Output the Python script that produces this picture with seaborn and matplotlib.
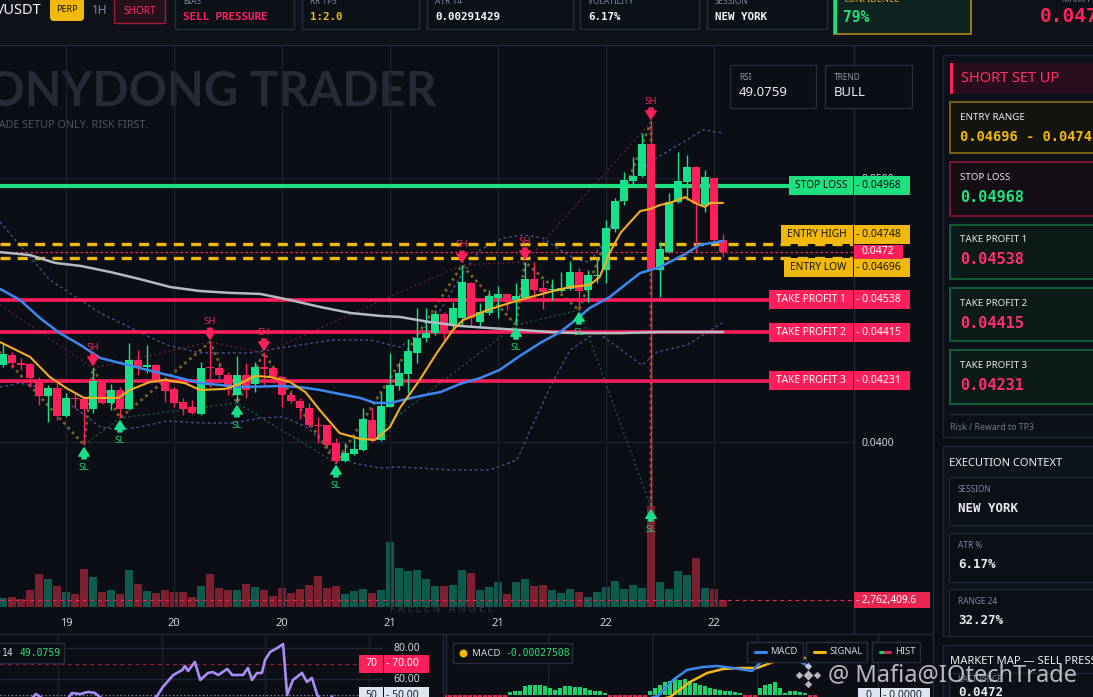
import numpy as np
import matplotlib
matplotlib.use("Agg")
import matplotlib.pyplot as plt
from matplotlib.patches import Rectangle, FancyBboxPatch
import seaborn as sns

W, H = 1093, 697
BG = "#0b0e15"
GRID = "#1b212d"
EDGE = "#222a38"
GREEN = "#18e08a"
RED = "#ff1f5a"
YELLOW = "#f0b90b"
SANS = ["Noto Sans", "DejaVu Sans"]
MONO = ["DejaVu Sans Mono"]

sns.set_theme(style="dark", rc={"axes.facecolor": "none", "figure.facecolor": BG,
                                "savefig.facecolor": BG, "axes.grid": False})
plt.rcParams["font.family"] = SANS

# ---------------- hourly candles (prices in 1e-5 units) ----------------
open_u = [4291, 4329, 4299, 4295, 4231, 4174, 4204, 4098, 4167, 4163,
          4125, 4227, 4148, 4197, 4125, 4310, 4284, 4291, 4235, 4201,
          4151, 4133, 4106, 4284, 4280, 4253, 4178, 4253, 4219, 4284,
          4280, 4246, 4178, 4155, 4129, 4064, 4064, 3996, 3928, 3955,
          3970, 4083, 4008, 4133, 4212, 4257, 4337, 4393, 4412, 4484,
          4446, 4469, 4601, 4454, 4488, 4545, 4560, 4537, 4545, 4616,
          4582, 4575, 4571, 4579, 4643, 4575, 4628, 4650, 4805, 4911,
          4987, 5006, 5127, 4650, 4718, 4907, 4983, 5040, 4896, 4998,
          4764]
high_u = [4374, 4340, 4318, 4299, 4246, 4216, 4223, 4185, 4185, 4167,
          4280, 4235, 4219, 4208, 4374, 4348, 4367, 4295, 4246, 4208,
          4167, 4159, 4303, 4378, 4303, 4265, 4325, 4299, 4303, 4337,
          4288, 4248, 4197, 4167, 4148, 4095, 4066, 4015, 3996, 4019,
          4129, 4129, 4185, 4337, 4303, 4390, 4507, 4507, 4499, 4492,
          4529, 4669, 4605, 4526, 4575, 4590, 4563, 4601, 4681, 4681,
          4613, 4616, 4643, 4684, 4658, 4650, 4699, 4839, 4923, 5021,
          5077, 5168, 5210, 4756, 4941, 5096, 5085, 5043, 5028, 5000,
          4786]
low_u = [4284, 4280, 4272, 4208, 4140, 4076, 4083, 4095, 4129, 3989,
         4110, 4145, 4121, 4091, 4121, 4253, 4261, 4232, 4151, 4133,
         4102, 4106, 4104, 4208, 4235, 4178, 4148, 4167, 4189, 4216,
         4223, 4133, 4148, 4087, 4057, 3996, 3978, 3921, 3926, 3951,
         3968, 4000, 4006, 4131, 4197, 4185, 4299, 4378, 4405, 4386,
         4431, 4442, 4435, 4431, 4480, 4469, 4499, 4442, 4543, 4537,
         4503, 4537, 4567, 4575, 4499, 4529, 4601, 4601, 4794, 4896,
         4964, 5002, 3754, 4548, 4715, 4905, 4915, 4715, 4870, 4756,
         4700]
close_u = [4333, 4299, 4291, 4242, 4174, 4204, 4098, 4167, 4163, 4125,
           4231, 4148, 4197, 4125, 4310, 4284, 4291, 4235, 4193, 4148,
           4125, 4110, 4280, 4280, 4253, 4208, 4253, 4197, 4284, 4276,
           4246, 4178, 4155, 4129, 4064, 4060, 3989, 3928, 3959, 3974,
           4087, 4008, 4136, 4216, 4262, 4344, 4393, 4412, 4484, 4412,
           4507, 4605, 4469, 4492, 4552, 4560, 4529, 4552, 4616, 4575,
           4567, 4579, 4582, 4643, 4571, 4631, 4631, 4809, 4911, 4991,
           5006, 5127, 4650, 4730, 4907, 4987, 5040, 4900, 5002, 4764,
           4720]
volume_m = [3.8, 4.0, 3.5, 7.2, 13.9, 11.8, 8.9, 6.4, 5.6, 16.0,
            12.7, 6.4, 7.2, 5.6, 15.6, 9.8, 6.8, 6.0, 7.2, 6.4,
            6.4, 4.3, 8.9, 13.9, 8.1, 7.2, 7.2, 9.8, 8.5, 7.2,
            4.7, 8.1, 6.0, 7.7, 9.3, 13.1, 8.1, 8.9, 5.6, 6.8,
            7.7, 6.0, 7.2, 27.3, 16.4, 15.2, 15.6, 11.8, 8.9, 8.9,
            9.3, 15.6, 14.4, 7.2, 8.5, 10.6, 5.6, 10.6, 11.8, 8.9,
            9.3, 7.2, 6.0, 7.7, 6.4, 4.3, 6.4, 8.5, 11.0, 7.7,
            9.3, 8.1, 42.4, 10.6, 7.7, 15.2, 13.5, 20.6, 8.1, 7.7,
            2.7624096]
last_volume = 2.7624096
day_ticks = [7, 19, 31, 43, 55, 67, 79]
day_labels = ["19", "20", "20", "21", "21", "22", "22"]

# moving averages and bands (bar position, price in 1e-5)
fast_x = [-0.33, 3.0, 5.2, 7.0, 9.0, 12.8, 14.1, 16.3, 18.0, 20.2, 21.9, 24.7, 26.3, 28.0,
          29.7, 31.9, 33.6, 35.2, 37.4, 39.7, 41.3, 43.0, 44.1, 46.3, 48.2, 50.0, 51.1, 53.8,
          56.3, 58.6, 61.1, 63.0, 65.2, 66.3, 67.4, 68.6, 69.7, 70.8, 71.9, 73.0, 74.1, 75.8,
          76.3, 77.4, 78.0, 78.6, 80.0]
fast_u = [4378, 4322, 4246, 4205, 4167, 4167, 4197, 4227, 4235, 4223, 4197, 4201, 4220, 4250,
          4246, 4227, 4189, 4121, 4034, 4012, 4008, 4057, 4129, 4235, 4337, 4424, 4461, 4499,
          4526, 4548, 4571, 4586, 4594, 4624, 4715, 4790, 4832, 4873, 4881, 4896, 4904, 4926,
          4915, 4896, 4889, 4904, 4904]
mid_x = [-0.33, 1.9, 4.1, 6.3, 8.6, 10.8, 13.0, 15.2, 17.4, 19.7, 21.9, 24.1, 26.3, 30.8,
         33.0, 35.2, 37.4, 39.7, 41.3, 43.0, 46.3, 48.6, 50.8, 53.0, 55.2, 57.4, 59.7, 61.9,
         63.6, 65.2, 67.4, 69.1, 70.8, 71.9, 73.0, 74.1, 75.8, 77.4, 78.6, 80.0]
mid_u = [4579, 4537, 4469, 4412, 4367, 4318, 4299, 4280, 4261, 4242, 4223, 4216, 4208, 4212,
         4208, 4197, 4182, 4167, 4148, 4148, 4174, 4189, 4220, 4242, 4273, 4325, 4375, 4416,
         4461, 4507, 4548, 4594, 4639, 4650, 4662, 4681, 4711, 4745, 4752, 4760]
slow_x = [-0.33, 3.0, 5.8, 8.6, 11.9, 15.2, 18.6, 21.9, 25.2, 28.6, 31.9, 35.2, 38.6, 41.9,
          44.1, 47.4, 50.8, 54.1, 57.4, 60.8, 64.1, 68.6, 73.0, 77.4, 80.0]
slow_u = [4718, 4707, 4677, 4666, 4643, 4616, 4586, 4571, 4564, 4560, 4537, 4511, 4488, 4477,
          4473, 4454, 4439, 4431, 4424, 4416, 4412, 4412, 4416, 4416, 4416]
upper_x = [-0.33, 0.4, 5.2, 10.8, 16.3, 18.2, 21.9, 27.4, 33.0, 36.7, 40.8, 44.1, 46.3, 48.6,
           50.8, 53.0, 55.6, 57.8, 60.0, 61.9, 63.8, 65.2, 66.9, 68.6, 70.8, 72.2, 74.1, 76.0,
           77.8, 80.0]
upper_u = [4832, 4802, 4613, 4488, 4397, 4367, 4337, 4337, 4367, 4386, 4386, 4359, 4412, 4499,
           4624, 4726, 4771, 4783, 4771, 4726, 4688, 4681, 4764, 4915, 5021, 5066, 5104, 5142,
           5180, 5168]
lower_x = [-0.33, 1.9, 5.2, 8.6, 10.8, 13.0, 15.2, 18.2, 21.9, 25.6, 28.6, 31.1, 33.8, 36.7,
           38.9, 41.9, 44.1, 49.7, 54.1, 57.1, 58.6, 60.8, 63.0, 66.0, 71.0, 72.7, 76.0, 79.9]
lower_u = [4208, 4223, 4197, 4114, 4057, 4046, 4057, 4080, 4072, 4072, 4091, 4095, 4057, 3959,
           3921, 3902, 3906, 3895, 3895, 3932, 4046, 4208, 4348, 4416, 4291, 4341, 4367, 4450]

# swing pivots
swing_high_idx = [10, 23, 29, 51, 58, 72]
swing_low_idx = [9, 13, 26, 37, 57, 64, 72]
zigzag_lead = (-1.5, 4382)
high_chain_lead = (-0.33, 4518)

# trade plan levels
STOP_LOSS = 0.04968
ENTRY_HIGH = 0.04748
ENTRY_LOW = 0.04696
TP1, TP2, TP3 = 0.04538, 0.04415, 0.04231
LAST_PRICE = 0.0472

# RSI (own time scale)
rsi_t = [8.1, 14.8, 16.1, 18.1, 22.6, 24.1, 25.9, 27.7, 29.2, 30.3, 33.7, 38.1, 41.4, 43.0,
         44.3, 46.6, 48.6, 49.2, 49.9, 51.4, 52.6, 54.3, 55.4, 56.6, 58.6, 59.7, 62.1, 63.2,
         64.1, 65.2, 66.3, 67.0, 68.1, 69.7, 71.0, 71.9, 73.2, 75.2, 76.3, 77.4, 78.6, 80.3, 81.9]
rsi_val = [43.5, 46.8, 50.6, 46.8, 45.5, 51.3, 50.6, 52.0, 51.3, 48.7, 43.5, 41.6, 45.5, 49.4,
           55.2, 62.9, 66.1, 68.7, 65.5, 71.3, 59.7, 64.2, 64.8, 62.9, 66.8, 62.9, 62.9, 67.4,
           59.7, 64.2, 64.2, 72.6, 77.7, 80.3, 82.9, 50.0, 59.7, 64.2, 58.4, 61.0, 50.0, 43.5,
           49.0759]

# MACD (1e-5 units, own time scale)
hist_u = [-2, -2, -2, -2, -2, -2, -2, -2, -2, -2, -2, -2, -2,
          2.7, 3.3, 4, 8.3, 9.3, 10, 9.3, 8.3, 6.7, 5, 6.7, 8.3, 8.3, 7.3, 7.3, 6.7, 5, 4, 3.3, 1.7,
          -2, -2, -2, -2, -2, -2, -2, -2,
          3.3, 6.7, 10, 12.7, 14, 16, 15, 16, 13.3, 11.7, 10, 8.3, 6.7, 6, 5, 4, 3.3, 2.7, 1.7,
          -2, -2, -2,
          6.7, 9.3, 10.7, 12.7, 6.7, 2, 3.3, 4, 2.7, 1.7,
          -2, -2]
macd_t = [30, 40, 42.6, 45.6, 48.4, 51.6, 54.4, 57.6, 61.4, 63, 65, 66.6, 69.6, 73]
macd_u = [-10, -5, -1.5, 14.5, 24.5, 27.5, 28.5, 26.5, 23.5, 31.5, 39.5, 39.5, 36.5, 27.5]
signal_t = [30, 40, 45, 49, 52.4, 55.6, 59, 62.4, 65.6, 68.4, 72]
signal_u = [-12, -8, -2.5, 12.5, 21.5, 25.5, 26.5, 26.5, 32.5, 36.5, 36.5]
macd_last = -0.00027508

U = 1e-5
o = np.array(open_u) * U
h = np.array(high_u) * U
l = np.array(low_u) * U
c = np.array(close_u) * U
idx = np.arange(len(o))

fig = plt.figure(figsize=(W / 100, H / 100), dpi=100)
fig.patch.set_facecolor(BG)


def px_axes(x0, y0, x1, y1, z):
    a = fig.add_axes([x0 / W, 1 - y1 / H, (x1 - x0) / W, (y1 - y0) / H], zorder=z)
    a.set_facecolor("none")
    for s in a.spines.values():
        s.set_visible(False)
    return a


def overlay(z):
    a = fig.add_axes([0, 0, 1, 1], zorder=z)
    a.set_xlim(0, W)
    a.set_ylim(H, 0)
    a.axis("off")
    a.patch.set_alpha(0)
    return a


def rect(a, x0, y0, x1, y1, fc="none", ec="none", lw=1.0, z=1, alpha=1.0):
    a.add_patch(Rectangle((x0, y0), x1 - x0, y1 - y0, facecolor=fc, edgecolor=ec,
                          linewidth=lw, zorder=z, alpha=alpha))


def txt(a, x, y, s, size, color, weight="normal", family=None, ha="left", va="center", z=5, **kw):
    return a.text(x, y, s, fontsize=size, color=color, fontweight=weight,
                  family=family or SANS, ha=ha, va=va, zorder=z, **kw)


bg = overlay(0)
fg = overlay(30)

# ---------------- page frame ----------------
rect(bg, 0, 0, W, 44, fc="#0e1117")
bg.plot([0, W], [44.5, 44.5], color="#232a3a", lw=1)
bg.plot([853.5, 853.5], [45, 633], color=EDGE, lw=1)
bg.plot([932.5, 932.5], [45, H], color=EDGE, lw=1)
bg.plot([0, 932], [633.5, 633.5], color=EDGE, lw=1)
bg.plot([442.5, 442.5], [634, H], color=EDGE, lw=1)
bg.plot([445.5, 445.5], [634, H], color=EDGE, lw=1)

# watermark
txt(bg, 437, 92, "JONYDONG TRADER", 34.3, "#262b36", weight="bold", ha="right",
    family=["Lato", "DejaVu Sans"])
txt(bg, 148, 126, "TRADE SETUP ONLY. RISK FIRST.", 7.8, "#4a5161", ha="right")
txt(fg, 441, 609, "F A L L E N   A N G E L", 7.5, "#353a46", weight="bold", ha="center", alpha=0.9)

# ---------------- header ----------------
txt(bg, 41, 11, "/USDT", 10.5, "#f2f4f8", weight="bold", ha="right")
bg.add_patch(FancyBboxPatch((50, -6), 34, 27, boxstyle="round,pad=0,rounding_size=4",
                            facecolor=YELLOW, edgecolor="none", zorder=2))
txt(bg, 67, 10, "PERP", 6.5, "#1a1400", weight="bold", ha="center")
txt(bg, 99.5, 11, "1H", 8.5, "#7d879c", ha="center")
rect(bg, 114, -2, 165, 23, fc="#26101a", ec="#9e1b40", z=2)
txt(bg, 139.5, 11, "SHORT", 7.2, "#ff2d6b", weight="bold", ha="center")

cards = [(175, 294, "BIAS", "SELL PRESSURE", "#ff2060"),
         (302, 419, "RR TP3", "1:2.0", YELLOW),
         (427, 573, "ATR 14", "0.00291429", "#f4f6fa"),
         (580, 699, "VOLATILITY", "6.17%", "#f4f6fa"),
         (707, 827, "SESSION", "NEW YORK", "#f4f6fa")]
for x0, x1, lab, val, col in cards:
    rect(bg, x0, -3, x1, 29, fc="#0c1017", ec="#262d3c", z=2)
    txt(bg, x0 + 8, 1.5, lab, 6, "#7d879c")
    txt(bg, x0 + 8, 17, val, 7.8, col, weight="bold", family=MONO)

rect(bg, 834, -3, 971, 34, fc="#0f2320", ec="#b58a12", lw=1.2, z=2)
rect(bg, 834, -3, 837, 34, fc="#19e07a", z=3)
txt(bg, 843, 0, "CONFIDENCE", 6.5, "#f5a524", weight="bold")
txt(bg, 843, 17, "79%", 10.5, "#22e07a", weight="bold", family=MONO)
txt(bg, 1062, 0, "MARK PRICE", 6, "#7d879c")
txt(bg, 1040, 17, "0.0472", 14, "#ff1f5a", weight="bold", family=MONO)

# ---------------- main price panel ----------------
vol = px_axes(0, 45, 853, 607, 2)
ax = px_axes(0, 45, 853, 607, 3)
XLIM = (-1 / 3, 850 / 9)
YLIM = (0.033768, 0.055008)

bull = c >= o
colors = np.where(bull, GREEN, RED)
vol_colors = np.where(bull, "#0d5b4c", "#7c1f2f")
vol.bar(idx, volume_m, width=0.88, color=vol_colors, linewidth=0)
vol.axhline(last_volume, color="#e8254f", lw=0.9, ls=(0, (3, 3)))
vol.set_xlim(*XLIM)
vol.set_ylim(0, 235.2)
vol.set_xticks([])
vol.set_yticks([])

for g in day_ticks:
    ax.axvline(g, color=GRID, lw=1, zorder=0)
for p in (0.04, 0.05):
    ax.axhline(p, color=GRID, lw=1, zorder=0)

# bands
band_col = "#4a4d92"
sns.lineplot(x=upper_x, y=np.array(upper_u) * U, ax=ax, color=band_col, lw=1.0,
             linestyle=(0, (2, 2)), estimator=None, sort=False, zorder=1)
sns.lineplot(x=lower_x, y=np.array(lower_u) * U, ax=ax, color=band_col, lw=1.0,
             linestyle=(0, (2, 2)), estimator=None, sort=False, zorder=1)

# swing structure lines
pivots = sorted([(i, "H") for i in swing_high_idx] + [(i, "L") for i in swing_low_idx],
                key=lambda t: (t[0], t[1] == "L"))
zx = [zigzag_lead[0]] + [p[0] for p in pivots]
zy = [zigzag_lead[1] * U] + [h[p[0]] if p[1] == "H" else l[p[0]] for p in pivots]
ax.plot(zx, zy, color="#74602a", lw=2.0, ls=(0, (1, 1.3)), zorder=2)
ax.plot([high_chain_lead[0]] + swing_high_idx, [high_chain_lead[1] * U] + list(h[swing_high_idx]),
        color="#5e1f38", lw=1.0, ls=(0, (1.5, 2)), zorder=2)
ax.plot(swing_low_idx, l[swing_low_idx], color="#1c5a3c", lw=1.0, ls=(0, (1.5, 2)), zorder=2)

# trade levels
ax.axhline(STOP_LOSS, xmax=789 / 853, color="#1fe07f", lw=3.0, zorder=3)
for tp in (TP1, TP2, TP3):
    ax.axhline(tp, xmax=769 / 853, color=RED, lw=2.6, zorder=3)
for en in (ENTRY_HIGH, ENTRY_LOW):
    ax.axhline(en, color=YELLOW, lw=2.4, ls=(0, (3, 2.2)), zorder=3)
ax.axhline(LAST_PRICE, color=RED, lw=0.9, ls=(0, (2, 2)), zorder=3)

# candles
ax.vlines(idx, l, h, colors=colors, lw=1.0, zorder=4)
ax.bar(idx, np.maximum(np.abs(c - o), 3e-5), bottom=np.minimum(o, c), width=0.8,
       color=colors, linewidth=0, zorder=5)

# moving averages
sns.lineplot(x=slow_x, y=np.array(slow_u) * U, ax=ax, color="#b5b9c2", lw=1.8,
             estimator=None, sort=False, zorder=6)
sns.lineplot(x=mid_x, y=np.array(mid_u) * U, ax=ax, color="#3c87f0", lw=1.8,
             estimator=None, sort=False, zorder=6)
sns.lineplot(x=fast_x, y=np.array(fast_u) * U, ax=ax, color="#f2b01e", lw=1.5,
             estimator=None, sort=False, zorder=6)

# swing markers
arrow_style = "simple,head_length=0.6,head_width=0.75,tail_width=0.3"
for i in swing_high_idx:
    ax.annotate("", xy=(i, h[i]), xytext=(0, 10), textcoords="offset points",
                arrowprops=dict(arrowstyle=arrow_style, color=RED, shrinkA=0, shrinkB=2,
                                mutation_scale=10), zorder=7)
    ax.annotate("SH", xy=(i, h[i]), xytext=(0, 14.5), textcoords="offset points",
                ha="center", va="center", fontsize=7, color="#f0285f", zorder=7)
for i in swing_low_idx:
    ax.annotate("", xy=(i, l[i]), xytext=(0, -10), textcoords="offset points",
                arrowprops=dict(arrowstyle=arrow_style, color=GREEN, shrinkA=0, shrinkB=2,
                                mutation_scale=10), zorder=7)
    ax.annotate("SL", xy=(i, l[i]), xytext=(0, -16), textcoords="offset points",
                ha="center", va="center", fontsize=7, color="#1ed67a", zorder=7)

ax.set_xlim(*XLIM)
ax.set_ylim(*YLIM)
ax.set_xlabel("")
ax.set_ylabel("")
ax.set_xticks(day_ticks)
ax.set_xticklabels(day_labels, fontweight="bold")
ax.tick_params(axis="x", length=0, pad=8, labelsize=8, labelcolor="#d1d4dc")
ax.yaxis.tick_right()
ax.set_yticks([0.04, 0.05])
ax.set_yticklabels(["0.0400", "0.0500"])
ax.tick_params(axis="y", length=0, pad=6, labelsize=7.5, labelcolor="#d1d4dc")
ax.grid(False)


def price_px(v):
    return H - ax.transData.transform((0, v))[1]


tags = [("STOP LOSS", STOP_LOSS, "#1fe07f", "#0b0e14", 789, "center"),
        ("ENTRY HIGH", ENTRY_HIGH, YELLOW, "#1a1400", 781, "above"),
        ("ENTRY LOW", ENTRY_LOW, YELLOW, "#1a1400", 784, "below"),
        ("TAKE PROFIT 1", TP1, RED, "white", 769, "center"),
        ("TAKE PROFIT 2", TP2, RED, "white", 769, "center"),
        ("TAKE PROFIT 3", TP3, RED, "white", 769, "center")]
for name, val, fc, tc, x0, place in tags:
    yc = price_px(val)
    y0 = {"above": yc - 19, "below": yc, "center": yc - 9.5}[place]
    rect(fg, x0, y0, 853, y0 + 19, fc=fc)
    rect(fg, 854, y0, 910, y0 + 19, fc=fc)
    txt(fg, (x0 + 853) / 2, y0 + 9.5, name, 7.3, tc, ha="center")
    txt(fg, 856, y0 + 9.5, f"- {val:.5f}", 7.5, tc)
yl = price_px(LAST_PRICE)
rect(fg, 854, yl - 7, 903, yl + 7, fc=RED)
txt(fg, 878, yl, f"{LAST_PRICE:.4f}", 7.5, "white", ha="center")

yv = H - vol.transData.transform((0, last_volume))[1]
rect(fg, 854, yv - 8, 930, yv + 8, fc="#e8254f")
txt(fg, 856, yv, f"- {last_volume * 1e6:,.1f}", 7.3, "white")

# RSI / TREND cards
for x0, x1, lab, val in [(730, 816, "RSI", f"{rsi_val[-1]:.4f}"), (825, 912, "TREND", "BULL")]:
    rect(fg, x0, 65, x1, 108, fc=BG, ec="#262d3c")
    txt(fg, x0 + 9, 78, lab, 6, "#8a93a6")
    txt(fg, x0 + 9, 93, val, 9.5, "#e8eaf0", weight="bold")

# ---------------- right panels ----------------
rect(bg, 943, 55, 1100, 437, fc="#0c1019", ec="#1f2634", z=1)
rect(bg, 950, 63, 1100, 94, fc="#2a0d1c", z=2)
rect(bg, 950, 63, 953, 94, fc=RED, z=3)
txt(bg, 961, 78, "SHORT SET UP", 10.5, "#ff2d6b")
setup_cards = [(102, 153, "ENTRY RANGE", f"{ENTRY_LOW:.5f} - {ENTRY_HIGH:.5f}", YELLOW, "#8c6c10", "#14140f", 9.8),
               (162, 216, "STOP LOSS", f"{STOP_LOSS:.5f}", "#22e07a", "#8f1434", "#140d15", 11),
               (225, 279, "TAKE PROFIT 1", f"{TP1:.5f}", "#ff2d6b", "#0f6b3e", "#0c1a17", 11),
               (288, 341, "TAKE PROFIT 2", f"{TP2:.5f}", "#ff2d6b", "#0f6b3e", "#0c1a17", 11),
               (350, 404, "TAKE PROFIT 3", f"{TP3:.5f}", "#ff2d6b", "#0f6b3e", "#0c1a17", 11)]
for y0, y1, lab, val, col, ec, fc, fs in setup_cards:
    rect(bg, 950, y0, 1100, y1, fc=fc, ec=ec, lw=1.2, z=2)
    txt(bg, 960, y0 + 15, lab, 7, "#e6e8ee", weight="bold")
    txt(bg, 960, y0 + 35, val, fs, col, weight="bold", family=MONO)
bg.plot([950, 1093], [413.5, 413.5], color="#2a3040", lw=1)
txt(bg, 950, 427, "Risk / Reward to TP3", 6.3, "#6f788a")

rect(bg, 943, 446, 1100, 636, fc="#0c141a", ec="#1f2634", z=1)
txt(bg, 949, 463, "EXECUTION CONTEXT", 8, "#f0f2f6", weight="bold")
for y0, y1, lab, val in [(477, 525, "SESSION", "NEW YORK"), (533, 582, "ATR %", "6.17%"),
                         (589, 636, "RANGE 24", "32.27%")]:
    rect(bg, 949, y0, 1100, y1, fc="#0b0f16", ec="#1f2634", z=2)
    txt(bg, 958, y0 + 13, lab, 6, "#7d879c")
    txt(bg, 958, y0 + 32, val, 9, "#e8eaf0", weight="bold", family=MONO)

rect(bg, 943, 645, 1100, 720, fc="#0c1019", ec="#1f2634", z=1)
txt(bg, 950, 661, "MARKET MAP — SELL PRESSURE", 8, "#f0f2f6", weight="bold")
rect(bg, 949, 673, 1100, 720, fc="#0b0f16", ec="#1f2634", z=2)
txt(bg, 958, 680, "LAST PRICE", 6, "#7d879c")
txt(bg, 958, 693, f"{LAST_PRICE:.4f}", 9, "#e8eaf0", weight="bold", family=MONO)

# ---------------- RSI panel ----------------
rsi_ax = px_axes(0, 634, 383, 697, 3)
for g in (21, 44, 67, 90):
    rsi_ax.axvline(g, color=GRID, lw=1, zorder=0)
for lv in (80, 60):
    rsi_ax.axhline(lv, color="#1f2634", lw=1, zorder=0)
rsi_ax.axhline(70, color="#a01a3a", lw=0.9, ls=(0, (3, 3)), zorder=1)
rsi_ax.axhline(50, color="#8a93a6", lw=0.9, ls=(0, (1, 2)), zorder=1)
sns.lineplot(x=rsi_t, y=rsi_val, ax=rsi_ax, color="#a98cf5", lw=1.9, estimator=None,
             sort=False, zorder=3)
rsi_ax.set_xlim(8.11, 93.2)
rsi_ax.set_ylim(48.71, 89.35)
rsi_ax.set_xticks([])
rsi_ax.set_yticks([])
rsi_ax.set_xlabel("")
rsi_ax.set_ylabel("")


def rsi_px(v):
    return H - rsi_ax.transData.transform((0, v))[1]


for lv in (80, 60):
    txt(fg, 407, rsi_px(lv), f"{lv:.2f}", 7.5, "#d1d4dc", ha="center")
y70 = rsi_px(70)
rect(fg, 359, y70 - 9, 383, y70 + 9, fc=RED)
rect(fg, 384, y70 - 9, 429, y70 + 9, fc=RED)
txt(fg, 371, y70, "70", 7.5, "white", ha="center")
txt(fg, 386, y70, "- 70.00", 7.5, "white")
y50 = rsi_px(50)
rect(fg, 359, y50 - 8, 383, y50 + 9, fc="#dfe5f0")
rect(fg, 384, y50 - 8, 429, y50 + 9, fc="#dfe5f0")
txt(fg, 371, y50, "50", 7.5, "#1a1f2b", ha="center")
txt(fg, 386, y50, "- 50.00", 7.5, "#1a1f2b")
rect(fg, -3, 643, 64, 663, fc=BG, ec="#262d3c")
txt(fg, 2, 653, "14", 7, "#d1d4dc", family=MONO)
txt(fg, 19, 653, f"{rsi_val[-1]:.4f}", 7, "#22e07a", family=MONO)

# ---------------- MACD panel ----------------
macd_ax = px_axes(445, 634, 877, 697, 3)
for g in (20.6, 41.4, 62.4):
    macd_ax.axvline(g, color=GRID, lw=1, zorder=0)
hist_t = np.arange(len(hist_u))
hist_cols = ["#1fd16b" if v > 0 else "#e0234e" for v in hist_u]
macd_ax.bar(hist_t, hist_u, width=0.75, color=hist_cols, linewidth=0, zorder=2)
sns.lineplot(x=signal_t, y=signal_u, ax=macd_ax, color=YELLOW, lw=1.8, estimator=None,
             sort=False, zorder=3)
sns.lineplot(x=macd_t, y=macd_u, ax=macd_ax, color="#3c87f0", lw=1.8, estimator=None,
             sort=False, zorder=4)
macd_ax.set_xlim(0, 86.4)
macd_ax.set_ylim(-2.5, 60.5)
macd_ax.set_xticks([])
macd_ax.set_yticks([])
macd_ax.set_xlabel("")
macd_ax.set_ylabel("")
bg.plot([877.5, 877.5], [634, H], color=EDGE, lw=1)

rect(fg, 453, 643, 572, 663, fc=BG, ec="#262d3c")
fg.scatter([463], [653], s=22, color=YELLOW, zorder=6)
txt(fg, 472, 653, "MACD", 7, "#d1d4dc", weight="bold")
txt(fg, 505, 653, f"{macd_last:.8f}", 7, "#22e07a", family=MONO)
for x0, x1, lab, col in [(747, 803, "MACD", "#3c87f0"), (806, 867, "SIGNAL", YELLOW),
                         (872, 920, "HIST", None)]:
    rect(fg, x0, 642, x1, 662, fc=BG, ec="#262d3c")
    if col:
        fg.plot([x0 + 8, x0 + 19], [652, 652], color=col, lw=2.2, zorder=6)
    else:
        fg.plot([x0 + 8, x0 + 12], [652, 652], color="#1fd16b", lw=2.2, zorder=6)
        fg.plot([x0 + 13, x0 + 18], [652, 652], color="#e0234e", lw=2.2, zorder=6)
    txt(fg, x0 + 23, 652, lab, 6.8, "#d1d4dc", weight="bold")
y0m = H - macd_ax.transData.transform((0, 0))[1]
rect(fg, 858, y0m - 7, 880, y0m + 9, fc="#dfe5f0")
rect(fg, 881, y0m - 7, 930, y0m + 9, fc="#dfe5f0")
txt(fg, 869, y0m + 1, "0", 7.5, "#1a1f2b", ha="center")
txt(fg, 883, y0m + 1, "- 0.0000", 7.5, "#1a1f2b")

# source mark
for (dx, dy, s) in [(0, 0, 26), (0, -9, 14), (0, 9, 14), (-9, 0, 14), (9, 0, 14)]:
    fg.scatter([808 + dx], [675 + dy], marker="D", s=s, color="#d8d8dc", alpha=0.85,
               linewidths=0, zorder=40)
txt(fg, 828, 675, "@ Mafia@IOtechTrade", 17, "#d8d8dc", alpha=0.85, z=40)

fig.savefig("out.png", dpi=100, facecolor=BG)
